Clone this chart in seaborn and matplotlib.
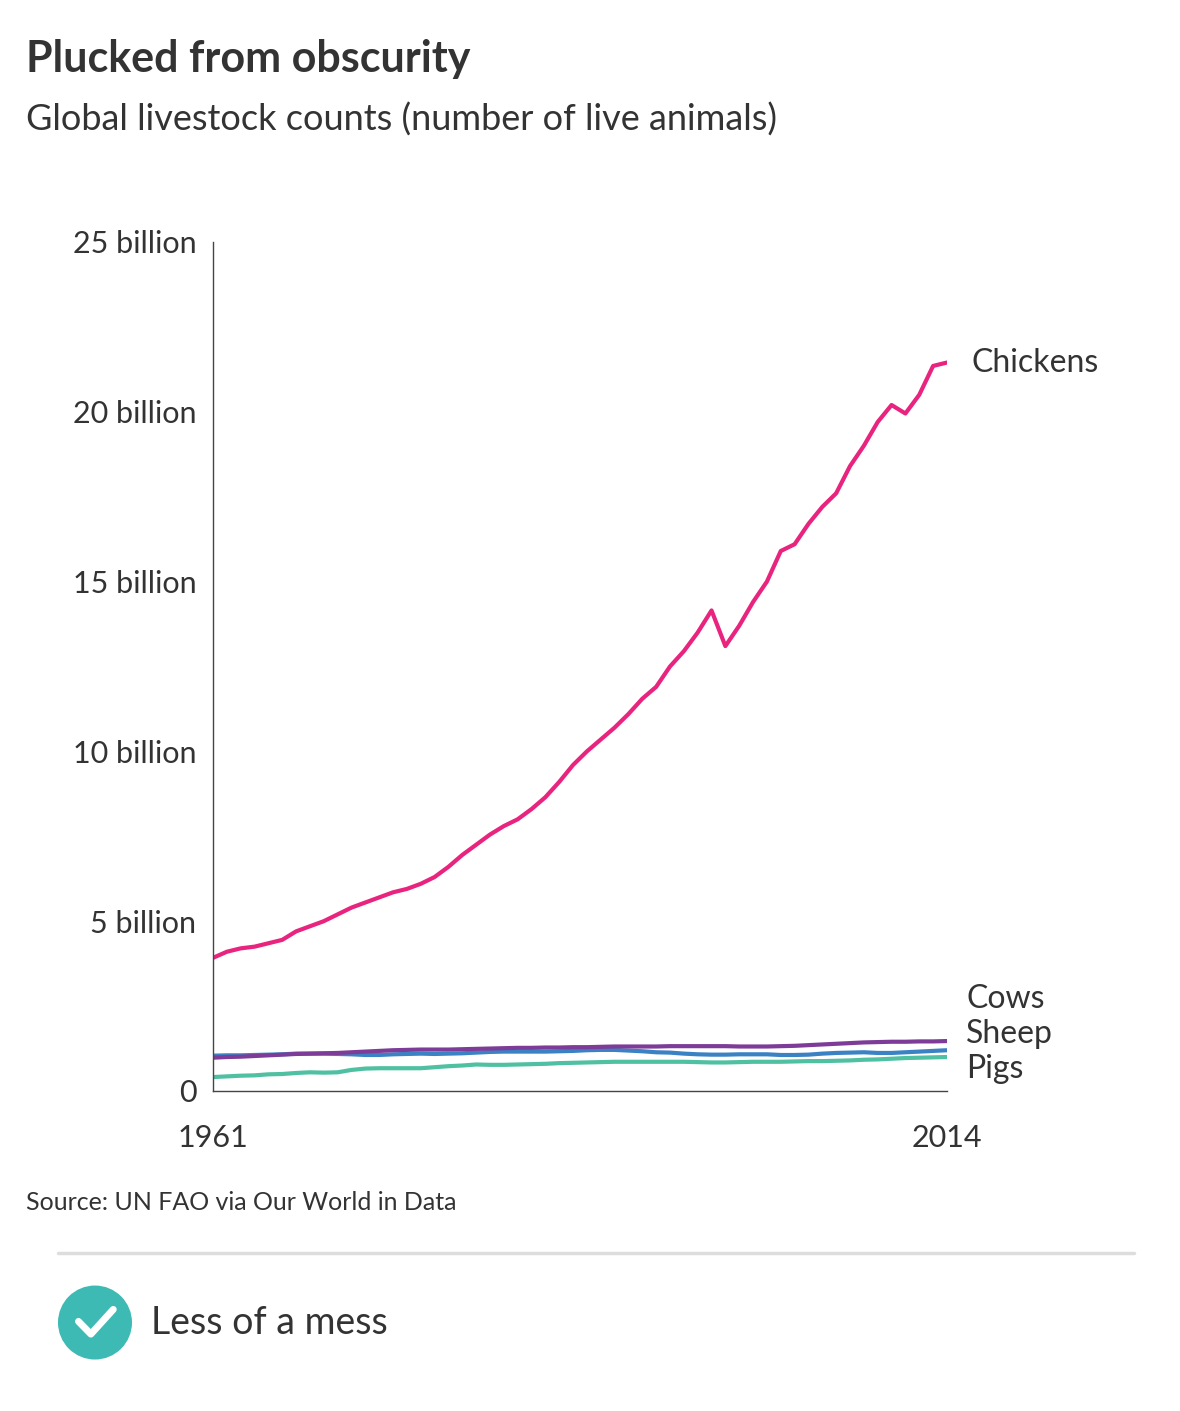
import numpy as np
import pandas as pd
import matplotlib
matplotlib.use("Agg")
import matplotlib.pyplot as plt
import seaborn as sns
from matplotlib.patches import Ellipse

years = list(range(1961, 2015))

chickens = [3.92, 4.1, 4.2, 4.25, 4.35, 4.45, 4.7, 4.85, 5.0, 5.2, 5.4, 5.55, 5.7, 5.85,
            5.95, 6.1, 6.3, 6.6, 6.95, 7.25, 7.55, 7.8, 8.0, 8.3, 8.65, 9.1, 9.6, 10.0,
            10.35, 10.7, 11.1, 11.55, 11.9, 12.5, 12.95, 13.5, 14.15, 13.1, 13.7, 14.4,
            15.0, 15.9, 16.1, 16.7, 17.2, 17.6, 18.4, 19.0, 19.7, 20.2, 19.95, 20.5,
            21.35, 21.45]
cows = [0.98, 1.0, 1.01, 1.03, 1.05, 1.07, 1.09, 1.1, 1.11, 1.12, 1.14, 1.16, 1.18, 1.2,
        1.21, 1.22, 1.22, 1.22, 1.23, 1.24, 1.25, 1.26, 1.27, 1.27, 1.28, 1.28, 1.29, 1.29,
        1.3, 1.31, 1.31, 1.31, 1.31, 1.32, 1.32, 1.32, 1.32, 1.32, 1.31, 1.31, 1.31, 1.32,
        1.33, 1.35, 1.37, 1.39, 1.41, 1.43, 1.44, 1.45, 1.45, 1.46, 1.46, 1.47]
sheep = [1.04, 1.05, 1.05, 1.06, 1.07, 1.08, 1.1, 1.1, 1.1, 1.09, 1.08, 1.06, 1.06, 1.08,
         1.09, 1.1, 1.09, 1.1, 1.11, 1.13, 1.15, 1.16, 1.16, 1.16, 1.16, 1.17, 1.18, 1.2,
         1.21, 1.21, 1.19, 1.17, 1.14, 1.13, 1.1, 1.08, 1.07, 1.07, 1.08, 1.08, 1.08, 1.06,
         1.06, 1.07, 1.1, 1.12, 1.13, 1.14, 1.12, 1.12, 1.14, 1.16, 1.18, 1.2]
pigs = [0.41, 0.43, 0.45, 0.46, 0.49, 0.5, 0.53, 0.55, 0.54, 0.55, 0.62, 0.66, 0.67, 0.67,
        0.67, 0.67, 0.7, 0.73, 0.75, 0.78, 0.77, 0.77, 0.78, 0.79, 0.8, 0.82, 0.83, 0.84,
        0.85, 0.86, 0.86, 0.86, 0.86, 0.86, 0.86, 0.85, 0.84, 0.84, 0.85, 0.86, 0.86, 0.86,
        0.87, 0.88, 0.88, 0.89, 0.9, 0.92, 0.93, 0.95, 0.97, 0.98, 0.99, 1.0]

series = {"Chickens": chickens, "Cows": cows, "Sheep": sheep, "Pigs": pigs}
colors = {"Chickens": "#e8247f", "Cows": "#7d3c98", "Sheep": "#3b82c4", "Pigs": "#4fc0a2"}

df = pd.DataFrame([(y, name, v) for name, vals in series.items() for y, v in zip(years, vals)],
                  columns=["year", "animal", "value"])

sns.set_style("white")
plt.rcParams["font.family"] = ["Lato", "DejaVu Sans"]
text_col = "#333333"

W, H = 1180, 1411
fig = plt.figure(figsize=(W / 100, H / 100), dpi=100)
ax = fig.add_axes([0.1805, 0.2268, 0.622, 0.6017])

for name in ["Pigs", "Sheep", "Cows", "Chickens"]:
    sns.lineplot(data=df[df.animal == name], x="year", y="value", color=colors[name],
                 linewidth=3, ax=ax, legend=False)

ax.set_xlim(1961, 2014)
ax.set_ylim(0, 25)
ax.set_yticks([0, 5, 10, 15, 20, 25])
ax.set_yticklabels(["0", "5 billion", "10 billion", "15 billion", "20 billion", "25 billion"])
ax.set_xticks([1961, 2014])
ax.set_xticklabels(["1961", "2014"])
ax.tick_params(axis="y", labelsize=22, colors=text_col, length=0, pad=12)
ax.tick_params(axis="x", labelsize=22, colors=text_col, length=0, pad=24)
for s in ["top", "right"]:
    ax.spines[s].set_visible(False)
for s in ["left", "bottom"]:
    ax.spines[s].set_color("#444444")
    ax.spines[s].set_linewidth(1)
ax.set_xlabel("")
ax.set_ylabel("")

ax.annotate("Chickens", xy=(2014, chickens[-1]), xytext=(18, 0), textcoords="offset points",
            fontsize=23, color=text_col, va="center")
label_y = {"Cows": 2.7, "Sheep": 1.68, "Pigs": 0.66}
for name, ly in label_y.items():
    ax.text(2015.4, ly, name, fontsize=23, color=text_col, va="center")

fig.text(0.022, 0.958, "Plucked from obscurity", fontsize=31, fontweight="bold",
         color=text_col, va="center")
fig.text(0.022, 0.915, "Global livestock counts (number of live animals)", fontsize=26,
         color=text_col, va="center")
fig.text(0.022, 0.148, "Source: UN FAO via Our World in Data", fontsize=18,
         color=text_col, va="center")
fig.add_artist(plt.Line2D([0.049, 0.961], [0.112, 0.112], color="#dddddd", linewidth=2.5))
r = 37
fig.add_artist(Ellipse((0.0805, 0.0627), 2 * r / W, 2 * r / H, transform=fig.transFigure,
                       color="#3dbab3", ec="none"))
fig.add_artist(plt.Line2D([0.0665, 0.077, 0.096], [0.0635, 0.0545, 0.072],
                          color="white", linewidth=5, solid_capstyle="round",
                          solid_joinstyle="round"))
fig.text(0.128, 0.0627, "Less of a mess", fontsize=27, color=text_col, va="center")

fig.savefig("out.png", dpi=100)
